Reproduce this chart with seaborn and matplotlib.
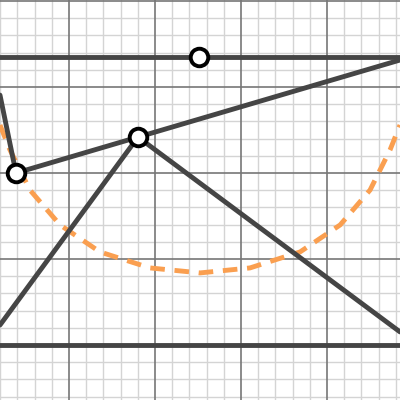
import matplotlib
matplotlib.use("Agg")
import matplotlib.pyplot as plt
import seaborn as sns
import numpy as np
import pandas as pd

sns.set_theme(style="white")

curve_x = [-4.01, -3.43, -2.27, -0.52, 1.80, 4.71, 7.62, 10.52, 13.43, 15.76, 17.50, 18.66, 19.24]
curve_y = [2.79, 1.34, -0.99, -3.02, -4.59, -5.52, -5.81, -5.52, -4.59, -3.02, -0.99, 1.34, 2.79]

segments = {
    "top": ([-4.2, 19.5], [6.74, 6.74]),
    "left": ([-4.01, -3.08], [4.53, 0.0]),
    "rise": ([-3.08, 19.24], [0.0, 6.57]),
    "down_left": ([4.01, -4.01], [2.09, -8.84]),
    "down_right": ([4.01, 19.24], [2.09, -9.24]),
    "bottom": ([-4.2, 19.5], [-10.0, -10.0]),
}
pts_x = [7.56, -3.08, 4.01]
pts_y = [6.74, 0.0, 2.09]

fig = plt.figure(figsize=(4, 4), dpi=100)
ax = fig.add_axes([0, 0, 1, 1])
ax.set_xlim(-4.01, 19.24)
ax.set_ylim(-13.2, 10.06)
for v in range(-5, 21):
    lw, c = (1.2, "#777777") if v % 5 == 0 else (1.0, "#d4d4d4")
    ax.axvline(v, color=c, lw=lw, zorder=0 if v % 5 else 1)
for v in range(-14, 11):
    lw, c = (1.2, "#777777") if v % 5 == 0 else (1.0, "#d4d4d4")
    ax.axhline(v, color=c, lw=lw, zorder=0 if v % 5 else 1)

sns.lineplot(x=curve_x, y=curve_y, ax=ax, color="#fa9f50", lw=3.5, dashes=False,
             linestyle=(0, (3, 2)), sort=False, estimator=None, zorder=3)
for name, (xs, ys) in segments.items():
    sns.lineplot(x=xs, y=ys, ax=ax, color="#454545", lw=3.5, sort=False, estimator=None, zorder=4)
sns.scatterplot(x=pts_x, y=pts_y, ax=ax, s=160, color="white", edgecolor="black",
                linewidth=2.8, zorder=5)
ax.set_axis_off()
fig.savefig("out.png", dpi=100)
